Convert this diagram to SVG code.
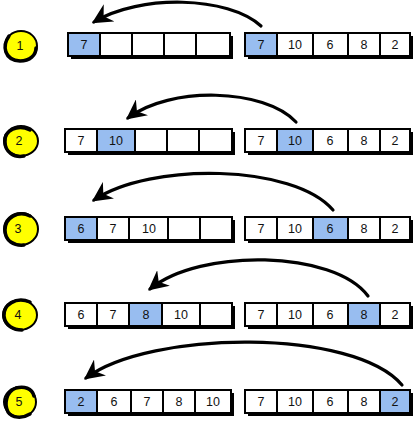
<svg xmlns="http://www.w3.org/2000/svg" width="416" height="422" viewBox="0 0 416 422">
<style>
.shadow{fill:#000}
.cell{fill:#fff;stroke:#000;stroke-width:2}
.hl{fill:#98BDF0;stroke:#000;stroke-width:2}
.t{font-family:"Liberation Sans",Arial,sans-serif;font-size:12.5px;text-anchor:middle;fill:#111}
.badge{fill:#FFFF00;stroke:#000;stroke-width:2}
.bsh{fill:none;stroke:#000;stroke-width:3.5;stroke-linecap:round}
.conn{fill:none;stroke:#000;stroke-width:3.2;stroke-linecap:round}
</style>
<defs>
<marker id="ah" markerUnits="userSpaceOnUse" markerWidth="20" markerHeight="20" refX="14" refY="8" orient="auto" viewBox="0 0 16 16">
<path d="M0,0 L16,8 L0,16 L5,8 Z" fill="#000"/>
</marker>
</defs>
<rect width="416" height="422" fill="#fff"/>

<g id="connectors">
<path class="conn" d="M261,26 C228,-4 140,-6 94,22" marker-end="url(#ah)"/>
<path class="conn" d="M296,122 C264,88 170,86 128,118" marker-end="url(#ah)"/>
<path class="conn" d="M333,210 C294,164 150,162 94,200" marker-end="url(#ah)"/>
<path class="conn" d="M368,296 C334,250 200,248 150,289" marker-end="url(#ah)"/>
<path class="conn" d="M402,385 C354,328 150,330 86,378" marker-end="url(#ah)"/>
</g>

<g id="badge1">
<ellipse class="badge" cx="21" cy="46" rx="16" ry="15"/>
<path class="bsh" d="M9,36 C2,46 4,60 20,61 C30,61 36,55 36,48"/>
<text class="t" x="20" y="50">1</text>
</g>
<g id="badge2">
<ellipse class="badge" cx="21" cy="141" rx="17" ry="15"/>
<path class="bsh" d="M30,130 C18,124 4,130 5,142 C5,152 14,158 24,156"/>
<text class="t" x="19" y="145">2</text>
</g>
<g id="badge3">
<ellipse class="badge" cx="21" cy="229" rx="17" ry="16"/>
<path class="bsh" d="M30,216 C18,210 5,218 5,230 C5,241 14,246 24,245"/>
<text class="t" x="18" y="233">3</text>
</g>
<g id="badge4">
<ellipse class="badge" cx="20" cy="315" rx="17" ry="15"/>
<path class="bsh" d="M30,302 C16,296 3,305 4,316 C5,326 14,330 22,330"/>
<text class="t" x="18" y="319">4</text>
</g>
<g id="badge5">
<ellipse class="badge" cx="20" cy="402" rx="16" ry="15"/>
<path class="bsh" d="M34,396 C32,388 24,386 16,388 C6,392 4,404 8,412 C12,418 22,419 30,414"/>
<text class="t" x="19" y="406">5</text>
</g>

<g id="row1-left">
<rect class="shadow" x="71" y="36" width="162" height="23"/>
<rect class="hl" x="68" y="33" width="32" height="23"/>
<rect class="cell" x="100" y="33" width="32" height="23"/>
<rect class="cell" x="132" y="33" width="32" height="23"/>
<rect class="cell" x="164" y="33" width="32" height="23"/>
<rect class="cell" x="196" y="33" width="34" height="23"/>
<text class="t" x="84" y="49">7</text>
</g>
<g id="row1-right">
<rect class="shadow" x="248" y="36" width="165" height="23"/>
<rect class="hl" x="245" y="33" width="32" height="23"/>
<rect class="cell" x="277" y="33" width="36" height="23"/>
<rect class="cell" x="313" y="33" width="35" height="23"/>
<rect class="cell" x="348" y="33" width="32" height="23"/>
<rect class="cell" x="380" y="33" width="30" height="23"/>
<text class="t" x="261" y="49">7</text>
<text class="t" x="295" y="49">10</text>
<text class="t" x="330" y="49">6</text>
<text class="t" x="364" y="49">8</text>
<text class="t" x="395" y="49">2</text>
</g>

<g id="row2-left">
<rect class="shadow" x="68" y="132" width="167" height="23"/>
<rect class="cell" x="65" y="129" width="32" height="23"/>
<rect class="hl" x="97" y="129" width="38" height="23"/>
<rect class="cell" x="135" y="129" width="32" height="23"/>
<rect class="cell" x="167" y="129" width="32" height="23"/>
<rect class="cell" x="199" y="129" width="33" height="23"/>
<text class="t" x="81" y="145">7</text>
<text class="t" x="116" y="145">10</text>
</g>
<g id="row2-right">
<rect class="shadow" x="248" y="132" width="165" height="23"/>
<rect class="cell" x="245" y="129" width="32" height="23"/>
<rect class="hl" x="277" y="129" width="36" height="23"/>
<rect class="cell" x="313" y="129" width="35" height="23"/>
<rect class="cell" x="348" y="129" width="32" height="23"/>
<rect class="cell" x="380" y="129" width="30" height="23"/>
<text class="t" x="261" y="145">7</text>
<text class="t" x="295" y="145">10</text>
<text class="t" x="330" y="145">6</text>
<text class="t" x="364" y="145">8</text>
<text class="t" x="395" y="145">2</text>
</g>

<g id="row3-left">
<rect class="shadow" x="68" y="220" width="167" height="23"/>
<rect class="hl" x="65" y="217" width="32" height="23"/>
<rect class="cell" x="97" y="217" width="32" height="23"/>
<rect class="cell" x="129" y="217" width="39" height="23"/>
<rect class="cell" x="168" y="217" width="32" height="23"/>
<rect class="cell" x="200" y="217" width="32" height="23"/>
<text class="t" x="81" y="233">6</text>
<text class="t" x="113" y="233">7</text>
<text class="t" x="149" y="233">10</text>
</g>
<g id="row3-right">
<rect class="shadow" x="248" y="220" width="165" height="23"/>
<rect class="cell" x="245" y="217" width="32" height="23"/>
<rect class="cell" x="277" y="217" width="36" height="23"/>
<rect class="hl" x="313" y="217" width="35" height="23"/>
<rect class="cell" x="348" y="217" width="32" height="23"/>
<rect class="cell" x="380" y="217" width="30" height="23"/>
<text class="t" x="261" y="233">7</text>
<text class="t" x="295" y="233">10</text>
<text class="t" x="330" y="233">6</text>
<text class="t" x="364" y="233">8</text>
<text class="t" x="395" y="233">2</text>
</g>

<g id="row4-left">
<rect class="shadow" x="68" y="306" width="167" height="23"/>
<rect class="cell" x="65" y="303" width="32" height="23"/>
<rect class="cell" x="97" y="303" width="32" height="23"/>
<rect class="hl" x="129" y="303" width="33" height="23"/>
<rect class="cell" x="162" y="303" width="38" height="23"/>
<rect class="cell" x="200" y="303" width="32" height="23"/>
<text class="t" x="81" y="319">6</text>
<text class="t" x="113" y="319">7</text>
<text class="t" x="146" y="319">8</text>
<text class="t" x="181" y="319">10</text>
</g>
<g id="row4-right">
<rect class="shadow" x="248" y="306" width="165" height="23"/>
<rect class="cell" x="245" y="303" width="32" height="23"/>
<rect class="cell" x="277" y="303" width="36" height="23"/>
<rect class="cell" x="313" y="303" width="35" height="23"/>
<rect class="hl" x="348" y="303" width="32" height="23"/>
<rect class="cell" x="380" y="303" width="30" height="23"/>
<text class="t" x="261" y="319">7</text>
<text class="t" x="295" y="319">10</text>
<text class="t" x="330" y="319">6</text>
<text class="t" x="364" y="319">8</text>
<text class="t" x="395" y="319">2</text>
</g>

<g id="row5-left">
<rect class="shadow" x="68" y="393" width="166" height="23"/>
<rect class="hl" x="65" y="390" width="32" height="23"/>
<rect class="cell" x="97" y="390" width="34" height="23"/>
<rect class="cell" x="131" y="390" width="32" height="23"/>
<rect class="cell" x="163" y="390" width="32" height="23"/>
<rect class="cell" x="195" y="390" width="36" height="23"/>
<text class="t" x="81" y="406">2</text>
<text class="t" x="114" y="406">6</text>
<text class="t" x="147" y="406">7</text>
<text class="t" x="179" y="406">8</text>
<text class="t" x="213" y="406">10</text>
</g>
<g id="row5-right">
<rect class="shadow" x="248" y="393" width="165" height="23"/>
<rect class="cell" x="245" y="390" width="32" height="23"/>
<rect class="cell" x="277" y="390" width="36" height="23"/>
<rect class="cell" x="313" y="390" width="35" height="23"/>
<rect class="cell" x="348" y="390" width="32" height="23"/>
<rect class="hl" x="380" y="390" width="30" height="23"/>
<text class="t" x="261" y="406">7</text>
<text class="t" x="295" y="406">10</text>
<text class="t" x="330" y="406">6</text>
<text class="t" x="364" y="406">8</text>
<text class="t" x="395" y="406">2</text>
</g>
</svg>
